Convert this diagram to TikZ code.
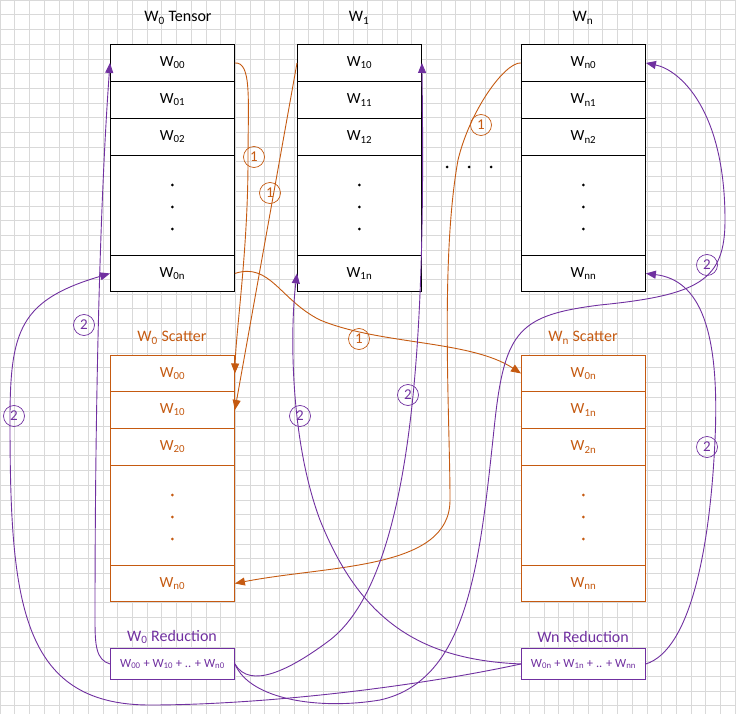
\documentclass[tikz,border=0pt]{standalone}
\usepackage{fontspec}
\setmainfont{Carlito}
\usetikzlibrary{arrows.meta,calc}
\definecolor{or}{HTML}{C55A11}
\definecolor{pu}{HTML}{7030A0}
\definecolor{gr}{HTML}{D9D9D9}
\newcommand\ws[1]{W\textsubscript{#1}}
\begin{document}
\begin{tikzpicture}[x=1pt,y=-1pt,
  cell/.style={draw,line width=0.9pt,minimum width=124pt,inner sep=0pt,anchor=north west,font=\fontsize{15.5}{17}\selectfont},
  ocell/.style={cell,draw=or,text=or},
  ttl/.style={font=\fontsize{16}{18}\selectfont,inner sep=0pt},
  num/.style={draw,circle,minimum size=21pt,inner sep=0pt,font=\fontsize{15}{17}\selectfont,line width=0.7pt},
  oa/.style={or,line width=0.9pt,-{Triangle[length=10pt,width=8pt]}},
  pa/.style={pu,line width=0.9pt,-{Triangle[length=10pt,width=8pt]}}]
\useasboundingbox (0,0) rectangle (736,714);
\foreach \i in {0,...,50}{\draw[gr,line width=0.5pt] (\i*14.7,0)--(\i*14.7,714); \draw[gr,line width=0.5pt] (0,\i*14.7)--(736,\i*14.7);}
% tensor columns
\foreach \nm/\x/\a/\b/\c/\d in {A/110/00/01/02/0n, B/297/10/11/12/1n, C/521/n0/n1/n2/nn}{
  \node[cell,fill=white,minimum height=37pt] (\nm0) at (\x,44) {\ws{\a}};
  \node[cell,fill=white,minimum height=37pt] (\nm1) at (\x,81) {\ws{\b}};
  \node[cell,fill=white,minimum height=37pt] (\nm2) at (\x,118) {\ws{\c}};
  \node[cell,fill=white,minimum height=100pt] (\nm3) at (\x,155) {};
  \node[cell,fill=white,minimum height=36pt] (\nm4) at (\x,255) {\ws{\d}};
  \foreach \yy in {30,52,74}{\fill ($(\nm3.north)+(0,\yy)$) circle (1.5pt);}
}
\node[ttl] (tA) at (178,18) {W\textsubscript{0} Tensor};
\node[ttl] (tB) at (359,18) {W\textsubscript{1}};
\node[ttl] (tC) at (583,18) {W\textsubscript{n}};
\foreach \xx in {447,469,491}{\fill (\xx,167) circle (1.5pt);}
% scatter
\foreach \nm/\x/\a/\b/\c/\d in {S/110/00/10/20/n0, T/521/0n/1n/2n/nn}{
  \node[ocell,fill=white,minimum height=36pt] (\nm0) at (\x,355) {\ws{\a}};
  \node[ocell,fill=white,minimum height=37pt] (\nm1) at (\x,391) {\ws{\b}};
  \node[ocell,fill=white,minimum height=37pt] (\nm2) at (\x,428) {\ws{\c}};
  \node[ocell,fill=white,minimum height=100pt] (\nm3) at (\x,465) {};
  \node[ocell,fill=white,minimum height=36pt] (\nm4) at (\x,565) {\ws{\d}};
  \foreach \yy in {30,52,74}{\fill[or] ($(\nm3.north)+(0,\yy)$) circle (1.5pt);}
}
\node[ttl,text=or] (tS) at (172,338) {W\textsubscript{0} Scatter};
\node[ttl,text=or] (tT) at (583,338) {W\textsubscript{n} Scatter};
% reductions
\node[cell,draw=pu,text=pu,fill=white,minimum height=31pt,font=\fontsize{12.5}{14}\selectfont] (R0) at (110,648) {\ws{00} + \ws{10} + .. + \ws{n0}};
\node[cell,draw=pu,text=pu,fill=white,minimum height=31pt,font=\fontsize{12.5}{14}\selectfont] (Rn) at (521,648) {\ws{0n} + \ws{1n} + .. + \ws{nn}};
\node[ttl,text=pu] (tR0) at (172,637) {W\textsubscript{0} Reduction};
\node[ttl,text=pu] (tRn) at (583,637) {Wn Reduction};
% step 1 (orange)
\draw[oa] (A0.east) .. controls (252,62) and (248,100) .. (248,160) .. controls (248,250) and (236,330) .. (S0.east);
\draw[oa] (B0.west) -- (S1.east);
\draw[oa] (C0.west) .. controls (505,62) and (470,110) .. (458,160) .. controls (440,260) and (450,420) .. (450,500) .. controls (450,570) and (330,565) .. (S4.east);
\draw[oa] (A4.east) .. controls (270,262) and (280,300) .. (320,320) .. controls (380,345) and (470,340) .. (T0.west);
\node[num,draw=or,text=or] (n1) at (254,157) {1};
\node[num,draw=or,text=or] (n2) at (270,193) {1};
\node[num,draw=or,text=or] (n3) at (481,125) {1};
\node[num,draw=or,text=or] (n4) at (359,339) {1};
% step 2 (purple)
\draw[pa] (R0.west) .. controls (96,660) and (95,645) .. (95,620) .. controls (95,400) and (100,200) .. (A0.west);
\draw[pa] (Rn.west) .. controls (400,690) and (250,705) .. (150,705) .. controls (20,705) and (10,600) .. (10,420) .. controls (10,330) and (20,300) .. (A4.west);
\draw[pa] (R0.east) .. controls (250,690) and (290,670) .. (330,640) .. controls (420,570) and (425,300) .. (B0.east);
\draw[pa] (R0.east) .. controls (250,700) and (320,710) .. (380,700) .. controls (470,680) and (480,560) .. (495,420) .. controls (505,330) and (520,315) .. (600,305) .. controls (700,295) and (725,280) .. (725,220) .. controls (725,110) and (680,70) .. (C0.east);
\draw[pa] (Rn.west) .. controls (420,660) and (360,620) .. (320,520) .. controls (290,440) and (290,330) .. (B4.west);
\draw[pa] (Rn.east) .. controls (690,650) and (710,550) .. (715,440) .. controls (720,330) and (700,280) .. (C4.east);
\node[num,draw=pu,text=pu] (m1) at (84,325) {2};
\node[num,draw=pu,text=pu] (m2) at (14,416) {2};
\node[num,draw=pu,text=pu] (m3) at (408,395) {2};
\node[num,draw=pu,text=pu] (m4) at (300,416) {2};
\node[num,draw=pu,text=pu] (m5) at (707,265) {2};
\node[num,draw=pu,text=pu] (m6) at (707,447) {2};
\end{tikzpicture}
\end{document}
